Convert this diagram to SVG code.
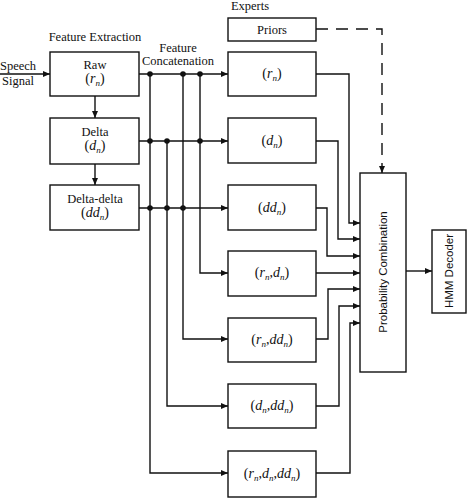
<svg xmlns="http://www.w3.org/2000/svg" width="474" height="503" viewBox="0 0 474 503">
<style>
.box{fill:#fff;stroke:#111;stroke-width:1.4}
.ln{fill:none;stroke:#111;stroke-width:1.4}
.dash{fill:none;stroke:#111;stroke-width:1.4;stroke-dasharray:12 8}
.t{font-family:"Liberation Serif","Times New Roman",serif;font-size:12.5px;fill:#111;text-anchor:middle}
.m{font-family:"Liberation Serif","Times New Roman",serif;font-size:14px;fill:#111;text-anchor:middle}
.s{font-family:"Liberation Sans",Arial,sans-serif;font-size:11.5px;fill:#111;text-anchor:middle}
.i{font-style:italic}
.sub{font-size:9px;font-style:italic}
.dot{fill:#111}
</style>
<defs>
<marker id="ah" markerWidth="7" markerHeight="6" refX="7" refY="3" orient="auto" markerUnits="userSpaceOnUse">
<path d="M0,0 L7,3 L0,6 Z" fill="#111"/>
</marker>
</defs>

<text class="t" x="95" y="41">Feature Extraction</text>
<text class="t" x="178" y="52">Feature</text>
<text class="t" x="178" y="65">Concatenation</text>
<text class="t" x="250" y="10">Experts</text>
<text class="t" x="18" y="70">Speech</text>
<text class="t" x="18" y="85">Signal</text>

<g id="connectors">
<line class="ln" x1="0" y1="74" x2="50" y2="74" marker-end="url(#ah)"/>
<line class="ln" x1="95" y1="96" x2="95" y2="118" marker-end="url(#ah)"/>
<line class="ln" x1="95" y1="164" x2="95" y2="185" marker-end="url(#ah)"/>
<line class="ln" x1="139" y1="74" x2="228" y2="74" marker-end="url(#ah)"/>
<line class="ln" x1="139" y1="141" x2="228" y2="141" marker-end="url(#ah)"/>
<line class="ln" x1="139" y1="208" x2="228" y2="208" marker-end="url(#ah)"/>
<polyline class="ln" points="200,74 200,273 228,273" marker-end="url(#ah)"/>
<polyline class="ln" points="183,74 183,339 228,339" marker-end="url(#ah)"/>
<polyline class="ln" points="167,141 167,406 228,406" marker-end="url(#ah)"/>
<polyline class="ln" points="150,74 150,473 228,473" marker-end="url(#ah)"/>
<circle class="dot" cx="150" cy="74" r="2.8"/>
<circle class="dot" cx="183" cy="74" r="2.8"/>
<circle class="dot" cx="200" cy="74" r="2.8"/>
<circle class="dot" cx="150" cy="141" r="2.8"/>
<circle class="dot" cx="167" cy="141" r="2.8"/>
<circle class="dot" cx="200" cy="141" r="2.8"/>
<circle class="dot" cx="150" cy="208" r="2.8"/>
<circle class="dot" cx="167" cy="208" r="2.8"/>
<circle class="dot" cx="183" cy="208" r="2.8"/>
<polyline class="ln" points="316,74 349,74 349,223 360,223" marker-end="url(#ah)"/>
<polyline class="ln" points="316,141 338,141 338,239 360,239" marker-end="url(#ah)"/>
<polyline class="ln" points="316,208 327,208 327,256 360,256" marker-end="url(#ah)"/>
<line class="ln" x1="316" y1="273" x2="360" y2="273" marker-end="url(#ah)"/>
<polyline class="ln" points="316,339 328,339 328,289 360,289" marker-end="url(#ah)"/>
<polyline class="ln" points="316,406 339,406 339,306 360,306" marker-end="url(#ah)"/>
<polyline class="ln" points="316,473 350,473 350,323 360,323" marker-end="url(#ah)"/>
<polyline class="dash" points="316,29 382,29 382,173" marker-end="url(#ah)"/>
<line class="ln" x1="406" y1="271" x2="432" y2="271" marker-end="url(#ah)"/>
</g>

<g id="raw">
<rect class="box" x="50" y="52" width="89" height="44"/>
<text class="t" x="95" y="69">Raw</text>
<text class="m" x="95" y="83">(<tspan class="i">r</tspan><tspan class="sub" dy="3">n</tspan><tspan dy="-3">)</tspan></text>
</g>
<g id="delta">
<rect class="box" x="50" y="118" width="89" height="46"/>
<text class="t" x="95" y="136">Delta</text>
<text class="m" x="95" y="150">(<tspan class="i">d</tspan><tspan class="sub" dy="3">n</tspan><tspan dy="-3">)</tspan></text>
</g>
<g id="deltadelta">
<rect class="box" x="50" y="185" width="89" height="45"/>
<text class="t" x="95" y="203">Delta-delta</text>
<text class="m" x="95" y="217">(<tspan class="i">dd</tspan><tspan class="sub" dy="3">n</tspan><tspan dy="-3">)</tspan></text>
</g>

<g id="priors">
<rect class="box" x="228" y="18" width="88" height="23"/>
<text class="t" x="272" y="34">Priors</text>
</g>
<g id="e-r">
<rect class="box" x="228" y="52" width="88" height="44"/>
<text class="m" x="272" y="78">(<tspan class="i">r</tspan><tspan class="sub" dy="3">n</tspan><tspan dy="-3">)</tspan></text>
</g>
<g id="e-d">
<rect class="box" x="228" y="118" width="88" height="45"/>
<text class="m" x="272" y="145">(<tspan class="i">d</tspan><tspan class="sub" dy="3">n</tspan><tspan dy="-3">)</tspan></text>
</g>
<g id="e-dd">
<rect class="box" x="228" y="185" width="88" height="45"/>
<text class="m" x="272" y="212">(<tspan class="i">dd</tspan><tspan class="sub" dy="3">n</tspan><tspan dy="-3">)</tspan></text>
</g>
<g id="e-rd">
<rect class="box" x="228" y="251" width="88" height="45"/>
<text class="m" x="272" y="277">(<tspan class="i">r</tspan><tspan class="sub" dy="3">n</tspan><tspan dy="-3">,</tspan><tspan class="i">d</tspan><tspan class="sub" dy="3">n</tspan><tspan dy="-3">)</tspan></text>
</g>
<g id="e-rdd">
<rect class="box" x="228" y="318" width="88" height="44"/>
<text class="m" x="272" y="344">(<tspan class="i">r</tspan><tspan class="sub" dy="3">n</tspan><tspan dy="-3">,</tspan><tspan class="i">dd</tspan><tspan class="sub" dy="3">n</tspan><tspan dy="-3">)</tspan></text>
</g>
<g id="e-ddd">
<rect class="box" x="228" y="384" width="88" height="44"/>
<text class="m" x="272" y="410">(<tspan class="i">d</tspan><tspan class="sub" dy="3">n</tspan><tspan dy="-3">,</tspan><tspan class="i">dd</tspan><tspan class="sub" dy="3">n</tspan><tspan dy="-3">)</tspan></text>
</g>
<g id="e-rddd">
<rect class="box" x="228" y="451" width="88" height="46"/>
<text class="m" x="272" y="478">(<tspan class="i">r</tspan><tspan class="sub" dy="3">n</tspan><tspan dy="-3">,</tspan><tspan class="i">d</tspan><tspan class="sub" dy="3">n</tspan><tspan dy="-3">,</tspan><tspan class="i">dd</tspan><tspan class="sub" dy="3">n</tspan><tspan dy="-3">)</tspan></text>
</g>

<g id="prob">
<rect class="box" x="360" y="173" width="46" height="199"/>
<text class="s" transform="translate(387,272) rotate(-90)">Probability Combination</text>
</g>
<g id="hmm">
<rect class="box" x="432" y="230" width="34" height="83"/>
<text class="s" transform="translate(453,271) rotate(-90)">HMM Decoder</text>
</g>
</svg>
